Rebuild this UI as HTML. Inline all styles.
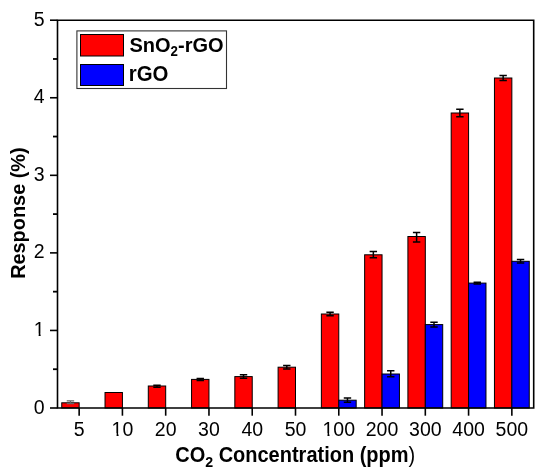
<!DOCTYPE html>
<html><head><meta charset="utf-8"><title>Response vs CO2 concentration</title>
<style>
html,body{margin:0;padding:0;background:#fff;}
body{width:550px;height:475px;overflow:hidden;}
svg{display:block;filter:blur(0.3px);}
text{font-family:"Liberation Sans",Arial,sans-serif;fill:#000;}
.tk{font-size:19.5px;}
.b{font-weight:bold;}
</style></head><body>
<svg width="550" height="475" viewBox="0 0 550 475">
<rect x="0" y="0" width="550" height="475" fill="#fff"/>
<rect x="61.75" y="402.80" width="17.40" height="5.20" fill="#ff0000" stroke="#000" stroke-width="1"/>
<rect x="105.02" y="392.50" width="17.40" height="15.50" fill="#ff0000" stroke="#000" stroke-width="1"/>
<rect x="148.29" y="386.00" width="17.40" height="22.00" fill="#ff0000" stroke="#000" stroke-width="1"/>
<rect x="191.56" y="379.40" width="17.40" height="28.60" fill="#ff0000" stroke="#000" stroke-width="1"/>
<rect x="234.83" y="376.60" width="17.40" height="31.40" fill="#ff0000" stroke="#000" stroke-width="1"/>
<rect x="278.10" y="367.20" width="17.40" height="40.80" fill="#ff0000" stroke="#000" stroke-width="1"/>
<rect x="321.37" y="314.00" width="17.40" height="94.00" fill="#ff0000" stroke="#000" stroke-width="1"/>
<rect x="338.77" y="400.20" width="17.40" height="7.80" fill="#0000ff" stroke="#000" stroke-width="1"/>
<rect x="364.64" y="254.80" width="17.40" height="153.20" fill="#ff0000" stroke="#000" stroke-width="1"/>
<rect x="382.04" y="374.00" width="17.40" height="34.00" fill="#0000ff" stroke="#000" stroke-width="1"/>
<rect x="407.91" y="236.50" width="17.40" height="171.50" fill="#ff0000" stroke="#000" stroke-width="1"/>
<rect x="425.31" y="324.60" width="17.40" height="83.40" fill="#0000ff" stroke="#000" stroke-width="1"/>
<rect x="451.18" y="113.00" width="17.40" height="295.00" fill="#ff0000" stroke="#000" stroke-width="1"/>
<rect x="468.58" y="283.10" width="17.40" height="124.90" fill="#0000ff" stroke="#000" stroke-width="1"/>
<rect x="494.45" y="78.00" width="17.40" height="330.00" fill="#ff0000" stroke="#000" stroke-width="1"/>
<rect x="511.85" y="261.30" width="17.40" height="146.70" fill="#0000ff" stroke="#000" stroke-width="1"/>
<path d="M66.75 400.80H74.15M66.75 403.60H74.15M70.45 400.80V403.60" stroke="#666" stroke-width="1.2" fill="none"/>
<path d="M153.29 385.20H160.69M153.29 387.20H160.69M156.99 385.20V387.20" stroke="#000" stroke-width="1.5" fill="none"/>
<path d="M196.56 378.60H203.96M196.56 380.60H203.96M200.26 378.60V380.60" stroke="#000" stroke-width="1.5" fill="none"/>
<path d="M239.83 374.80H247.23M239.83 378.20H247.23M243.53 374.80V378.20" stroke="#000" stroke-width="1.5" fill="none"/>
<path d="M283.10 365.50H290.50M283.10 369.00H290.50M286.80 365.50V369.00" stroke="#000" stroke-width="1.5" fill="none"/>
<path d="M326.37 312.20H333.77M326.37 315.80H333.77M330.07 312.20V315.80" stroke="#000" stroke-width="1.5" fill="none"/>
<path d="M343.77 398.10H351.17M343.77 402.20H351.17M347.47 398.10V402.20" stroke="#000" stroke-width="1.5" fill="none"/>
<path d="M369.64 251.40H377.04M369.64 257.80H377.04M373.34 251.40V257.80" stroke="#000" stroke-width="1.5" fill="none"/>
<path d="M387.04 370.80H394.44M387.04 376.80H394.44M390.74 370.80V376.80" stroke="#000" stroke-width="1.5" fill="none"/>
<path d="M412.91 232.50H420.31M412.91 242.00H420.31M416.61 232.50V242.00" stroke="#000" stroke-width="1.5" fill="none"/>
<path d="M430.31 322.30H437.71M430.31 327.00H437.71M434.01 322.30V327.00" stroke="#000" stroke-width="1.5" fill="none"/>
<path d="M456.18 109.20H463.58M456.18 116.80H463.58M459.88 109.20V116.80" stroke="#000" stroke-width="1.5" fill="none"/>
<path d="M473.58 282.20H480.98M473.58 284.00H480.98M477.28 282.20V284.00" stroke="#000" stroke-width="1.5" fill="none"/>
<path d="M499.45 75.40H506.85M499.45 80.40H506.85M503.15 75.40V80.40" stroke="#000" stroke-width="1.5" fill="none"/>
<path d="M516.85 259.50H524.25M516.85 263.00H524.25M520.55 259.50V263.00" stroke="#000" stroke-width="1.5" fill="none"/>
<path d="M57.5 20.2H533.7V408H57.5Z" fill="none" stroke="#000" stroke-width="1.6"/>
<path d="M50 408.00H57.5" stroke="#000" stroke-width="1.6"/>
<text class="tk" transform="translate(44.5 413.50) scale(1 1.06)" text-anchor="end">0</text>
<path d="M50 330.44H57.5" stroke="#000" stroke-width="1.6"/>
<text class="tk" transform="translate(44.5 335.94) scale(1 1.06)" text-anchor="end">1</text>
<path d="M50 252.88H57.5" stroke="#000" stroke-width="1.6"/>
<text class="tk" transform="translate(44.5 258.38) scale(1 1.06)" text-anchor="end">2</text>
<path d="M50 175.32H57.5" stroke="#000" stroke-width="1.6"/>
<text class="tk" transform="translate(44.5 180.82) scale(1 1.06)" text-anchor="end">3</text>
<path d="M50 97.76H57.5" stroke="#000" stroke-width="1.6"/>
<text class="tk" transform="translate(44.5 103.26) scale(1 1.06)" text-anchor="end">4</text>
<path d="M50 20.20H57.5" stroke="#000" stroke-width="1.6"/>
<text class="tk" transform="translate(44.5 25.70) scale(1 1.06)" text-anchor="end">5</text>
<path d="M53 369.22H57.5" stroke="#000" stroke-width="1.8"/>
<path d="M53 291.66H57.5" stroke="#000" stroke-width="1.8"/>
<path d="M53 214.10H57.5" stroke="#000" stroke-width="1.8"/>
<path d="M53 136.54H57.5" stroke="#000" stroke-width="1.8"/>
<path d="M53 58.98H57.5" stroke="#000" stroke-width="1.8"/>
<path d="M79.15 408V415.7" stroke="#000" stroke-width="1.6"/>
<text class="tk" transform="translate(79.15 435.5) scale(1 1.06)" text-anchor="middle">5</text>
<path d="M122.42 408V415.7" stroke="#000" stroke-width="1.6"/>
<text class="tk" transform="translate(122.42 435.5) scale(1 1.06)" text-anchor="middle">10</text>
<path d="M165.69 408V415.7" stroke="#000" stroke-width="1.6"/>
<text class="tk" transform="translate(165.69 435.5) scale(1 1.06)" text-anchor="middle">20</text>
<path d="M208.96 408V415.7" stroke="#000" stroke-width="1.6"/>
<text class="tk" transform="translate(208.96 435.5) scale(1 1.06)" text-anchor="middle">30</text>
<path d="M252.23 408V415.7" stroke="#000" stroke-width="1.6"/>
<text class="tk" transform="translate(252.23 435.5) scale(1 1.06)" text-anchor="middle">40</text>
<path d="M295.50 408V415.7" stroke="#000" stroke-width="1.6"/>
<text class="tk" transform="translate(295.50 435.5) scale(1 1.06)" text-anchor="middle">50</text>
<path d="M338.77 408V415.7" stroke="#000" stroke-width="1.6"/>
<text class="tk" transform="translate(338.77 435.5) scale(1 1.06)" text-anchor="middle">100</text>
<path d="M382.04 408V415.7" stroke="#000" stroke-width="1.6"/>
<text class="tk" transform="translate(382.04 435.5) scale(1 1.06)" text-anchor="middle">200</text>
<path d="M425.31 408V415.7" stroke="#000" stroke-width="1.6"/>
<text class="tk" transform="translate(425.31 435.5) scale(1 1.06)" text-anchor="middle">300</text>
<path d="M468.58 408V415.7" stroke="#000" stroke-width="1.6"/>
<text class="tk" transform="translate(468.58 435.5) scale(1 1.06)" text-anchor="middle">400</text>
<path d="M511.85 408V415.7" stroke="#000" stroke-width="1.6"/>
<text class="tk" transform="translate(511.85 435.5) scale(1 1.06)" text-anchor="middle">500</text>
<text class="b" transform="translate(295.2 462) scale(1 1.07)" text-anchor="middle" font-size="20">CO<tspan font-size="14.2" dy="4.8">2</tspan><tspan dy="-4.8"> Concentration (ppm</tspan><tspan font-weight="normal">)</tspan></text>
<text class="b" transform="translate(25.3 213.1) rotate(-90)" text-anchor="middle" font-size="19.9">Response (%)</text>
<rect x="76.9" y="30.9" width="149.6" height="57.6" fill="#fff" stroke="#333" stroke-width="1.1"/>
<rect x="80.5" y="34.5" width="43" height="21.5" fill="#ff0000" stroke="#000" stroke-width="1"/>
<rect x="80.5" y="64.5" width="43" height="21" fill="#0000ff" stroke="#000" stroke-width="1"/>
<text class="b" transform="translate(129.5 51.5) scale(1 1.04)" font-size="20">SnO<tspan font-size="13.3" dy="4.7">2</tspan><tspan dy="-4.7">-rGO</tspan></text>
<text class="b" transform="translate(128.7 81.3) scale(1 1.04)" font-size="20.4">rGO</text>
<rect x="34.04" y="333.64" width="4.6" height="2.8" fill="#fff"/><rect x="40.64" y="333.64" width="3.4" height="2.8" fill="#fff"/>
<rect x="111.96" y="433.20" width="4.6" height="2.8" fill="#fff"/><rect x="118.56" y="433.20" width="3.4" height="2.8" fill="#fff"/>
<rect x="322.88" y="433.20" width="4.6" height="2.8" fill="#fff"/><rect x="329.48" y="433.20" width="3.4" height="2.8" fill="#fff"/>
</svg>
</body></html>
